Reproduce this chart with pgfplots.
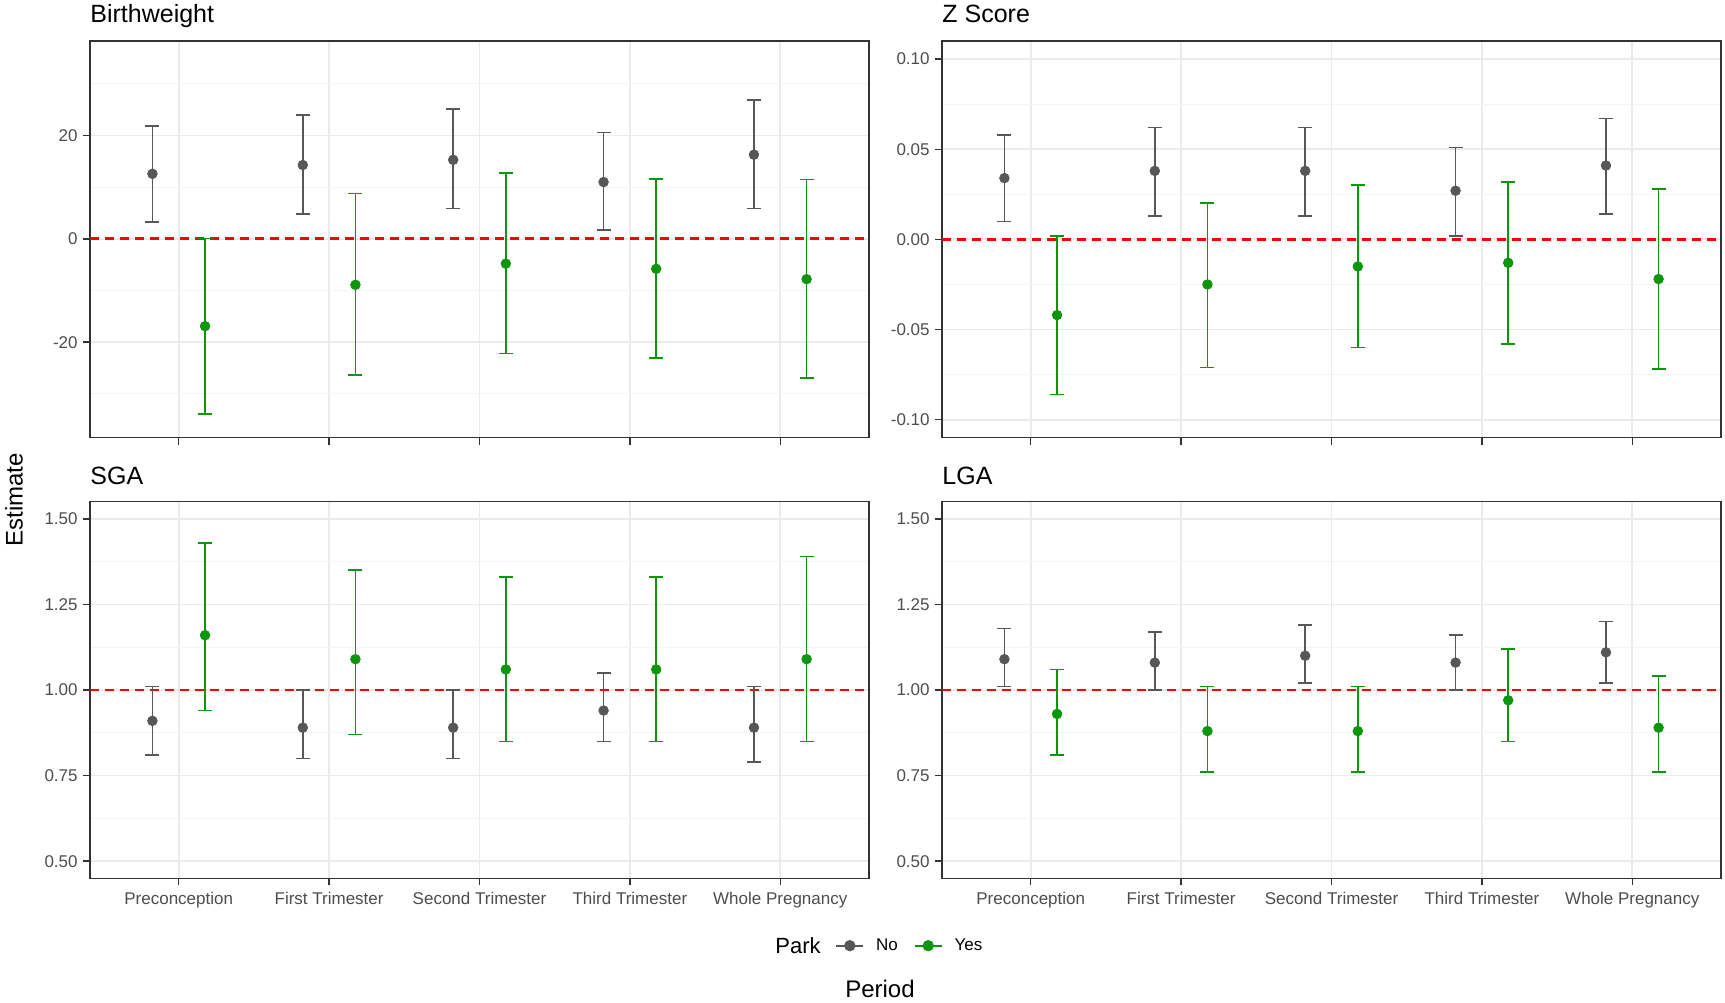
\documentclass[border=0pt]{standalone}
\usepackage{pgfplots}
\pgfplotsset{compat=1.18}
\usepackage{pgfplotstable}
\usepackage{fontspec}
\setmainfont{Liberation Sans}
\definecolor{cNo}{HTML}{575757}
\definecolor{cYes}{HTML}{0C960C}
\definecolor{border}{HTML}{333333}
\definecolor{gridmaj}{HTML}{EBEBEB}
\definecolor{gridmin}{HTML}{F4F4F4}
\definecolor{ticklab}{HTML}{4D4D4D}

\pgfplotstableread{
x est lo hi
0 12.6 3.2 21.9
1 14.3 4.8 24.0
2 15.3 5.9 25.1
3 11.0 1.7 20.6
4 16.3 5.9 26.9
}\bwNo
\pgfplotstableread{
x est lo hi
0 -16.9 -33.9 0.1
1 -8.9 -26.3 8.8
2 -4.8 -22.2 12.8
3 -5.8 -23.1 11.6
4 -7.8 -27.0 11.5
}\bwYes
\pgfplotstableread{
x est lo hi
0 0.034 0.010 0.058
1 0.038 0.013 0.062
2 0.038 0.013 0.062
3 0.027 0.002 0.051
4 0.041 0.014 0.067
}\zNo
\pgfplotstableread{
x est lo hi
0 -0.042 -0.086 0.002
1 -0.025 -0.071 0.020
2 -0.015 -0.060 0.030
3 -0.013 -0.058 0.032
4 -0.022 -0.072 0.028
}\zYes
\pgfplotstableread{
x est lo hi
0 0.91 0.81 1.01
1 0.89 0.80 1.00
2 0.89 0.80 1.00
3 0.94 0.85 1.05
4 0.89 0.79 1.01
}\sgaNo
\pgfplotstableread{
x est lo hi
0 1.16 0.94 1.43
1 1.09 0.87 1.35
2 1.06 0.85 1.33
3 1.06 0.85 1.33
4 1.09 0.85 1.39
}\sgaYes
\pgfplotstableread{
x est lo hi
0 1.09 1.01 1.18
1 1.08 1.00 1.17
2 1.10 1.02 1.19
3 1.08 1.00 1.16
4 1.11 1.02 1.20
}\lgaNo
\pgfplotstableread{
x est lo hi
0 0.93 0.81 1.06
1 0.88 0.76 1.01
2 0.88 0.76 1.01
3 0.97 0.85 1.12
4 0.89 0.76 1.04
}\lgaYes

\pgfplotsset{
  panel/.style={
    scale only axis, width=389.5pt,
    xmin=-0.59, xmax=4.59,
    xtick={0,1,2,3,4},
    axis line style={border, line width=0.7pt},
    tick align=outside, tick pos=left,
    major tick length=3.5pt, minor tick length=0pt,
    tick style={border, line width=0.7pt},
    xmajorgrids, ymajorgrids, yminorgrids,
    major grid style={gridmaj, line width=0.9pt},
    minor grid style={gridmin, line width=0.5pt},
    ticklabel style={font=\fontsize{8.5}{10}\selectfont, text=ticklab},
    yticklabel style={inner sep=0pt, xshift=-2.5pt},
    xticklabel style={inner sep=0pt, yshift=-3pt, anchor=north},
  },
  toppanel/.style={panel, height=198.3pt, xticklabels={}},
  botpanel/.style={panel, height=188.3pt,
    xticklabels={Preconception, First Trimester, Second Trimester, Third Trimester, Whole Pregnancy},
    ymin=0.45, ymax=1.55, ytick={0.5,0.75,1,1.25,1.5},
    yticklabels={0.50,0.75,1.00,1.25,1.50},
    minor ytick={0.625,0.875,1.125,1.375}},
  ser/.style={only marks, mark=*, color=#1, mark size=2.4pt, forget plot,
    error bars/.cd, y dir=both, y explicit,
    error bar style={line width=0.85pt, color=#1},
    error mark options={rotate=90, mark size=3.5pt, line width=0.85pt, color=#1}},
  refline/.style={red, line width=1.4pt, dash pattern=on 4.5pt off 3pt, forget plot},
}

\newcommand{\drawser}[3]{%
  \addplot[ser=#1] table[x expr=\thisrow{x}#2, y=est,
    y error plus expr=\thisrow{hi}-\thisrow{est},
    y error minus expr=\thisrow{est}-\thisrow{lo}] {#3};}

\begin{document}
\begin{tikzpicture}
\path[use as bounding box] (0,0) rectangle (862.5pt,501pt);

% Birthweight
\begin{axis}[toppanel, at={(45pt,282.15pt)}, anchor=south west,
  ymin=-38.5, ymax=38.3, ytick={-20,0,20}, yticklabels={-20,0,20},
  minor ytick={-30,-10,10,30}]
\addplot[refline] coordinates {(-0.59,0) (4.59,0)};
\drawser{cNo}{-0.175}{\bwNo}
\drawser{cYes}{+0.175}{\bwYes}
\end{axis}

% Z Score
\begin{axis}[toppanel, at={(471pt,282.15pt)}, anchor=south west,
  ymin=-0.11, ymax=0.11, ytick={-0.1,-0.05,0,0.05,0.1},
  yticklabels={-0.10,-0.05,0.00,0.05,0.10},
  minor ytick={-0.075,-0.025,0.025,0.075}]
\addplot[refline] coordinates {(-0.59,0) (4.59,0)};
\drawser{cNo}{-0.175}{\zNo}
\drawser{cYes}{+0.175}{\zYes}
\end{axis}

% SGA
\begin{axis}[botpanel, at={(45pt,61.85pt)}, anchor=south west,
  legend columns=2,
  legend style={at={(0.9564,-0.179)}, anchor=west, draw=none, fill=none,
    inner sep=0pt, font=\fontsize{8.5}{10}\selectfont,
    /tikz/every odd column/.append style={column sep=4pt},
    /tikz/every even column/.append style={column sep=6pt}},
  legend image code/.code={\draw[#1, mark repeat=2, mark phase=2]
    plot coordinates {(0pt,0pt) (6.75pt,0pt) (13.5pt,0pt)};}]
\addplot[refline] coordinates {(-0.59,1) (4.59,1)};
\drawser{cNo}{-0.175}{\sgaNo}
\drawser{cYes}{+0.175}{\sgaYes}
\addlegendimage{cNo, line width=0.85pt, mark=*, mark size=2.4pt}
\addlegendentry{No}
\addlegendimage{cYes, line width=0.85pt, mark=*, mark size=2.4pt}
\addlegendentry{Yes}
\end{axis}

% LGA
\begin{axis}[botpanel, at={(471pt,61.85pt)}, anchor=south west]
\addplot[refline] coordinates {(-0.59,1) (4.59,1)};
\drawser{cNo}{-0.175}{\lgaNo}
\drawser{cYes}{+0.175}{\lgaYes}
\end{axis}

\begin{scope}[every node/.style={inner sep=0pt}]
\node[anchor=base west, font=\fontsize{12.5}{15}\selectfont] at (45pt,489.5pt) {Birthweight};
\node[anchor=base west, font=\fontsize{12.5}{15}\selectfont] at (471pt,489.5pt) {Z Score};
\node[anchor=base west, font=\fontsize{12.5}{15}\selectfont] at (45pt,258.5pt) {SGA};
\node[anchor=base west, font=\fontsize{12.5}{15}\selectfont] at (471pt,258.5pt) {LGA};
\node[rotate=90, font=\fontsize{12}{14}\selectfont] at (7pt,251pt) {Estimate};
\node[font=\fontsize{12}{14}\selectfont] at (440pt,6.5pt) {Period};
\node[anchor=west, font=\fontsize{11}{13}\selectfont] at (387.5pt,28.15pt) {Park};
\end{scope}
\end{tikzpicture}
\end{document}
